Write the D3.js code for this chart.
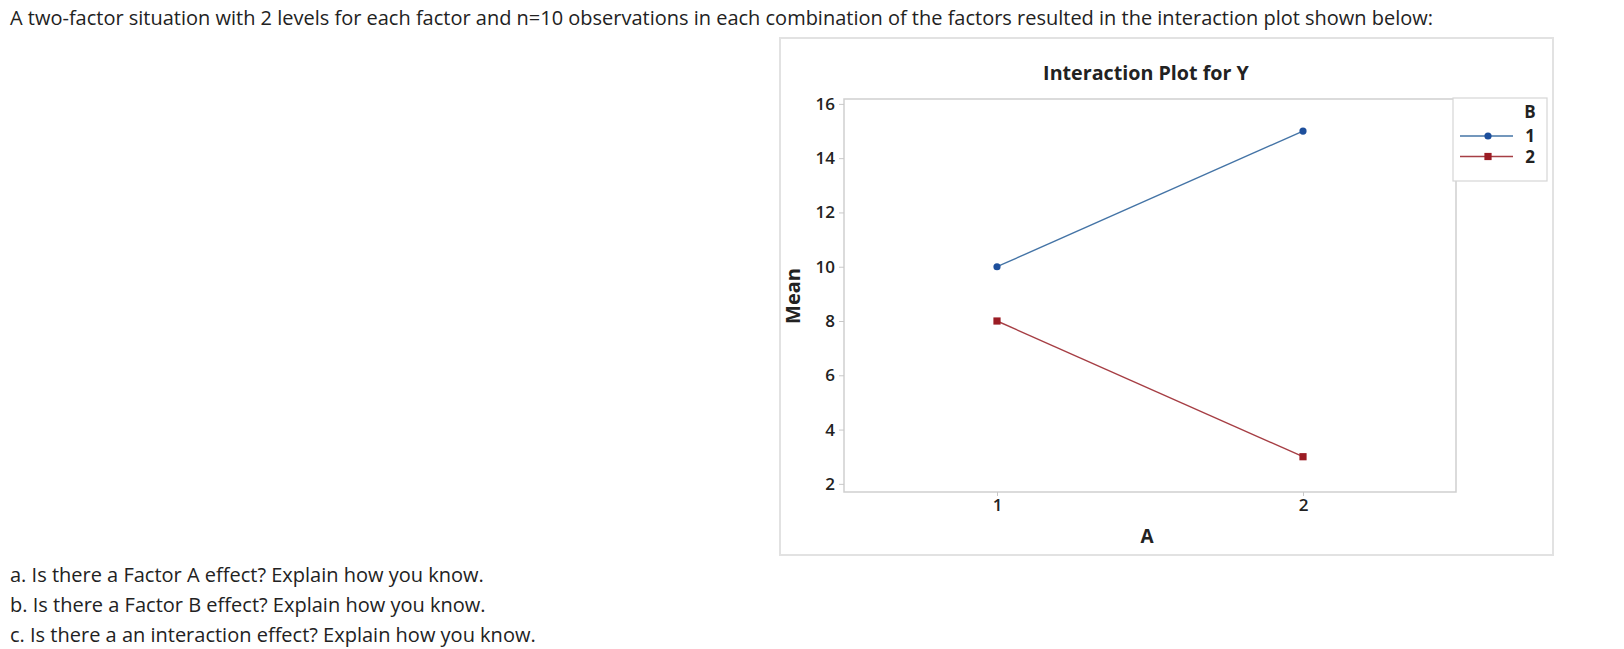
<!doctype html>
<html lang="en">
	<head>
		<meta charset="UTF-8" />
		<title>Interaction Plot for Y</title>
		<script src="https://d3js.org/d3.v7.min.js"></script>
		<style>
			body {
				margin: 0;
				background: #fff;
			}
			svg text {
				font-family: 'Open Sans', 'Noto Sans', sans-serif;
			}
			.frame {
				fill: none;
				stroke: #e2e2e2;
				stroke-width: 2px;
			}
			.plotbox {
				fill: none;
				stroke: #cfcfcf;
				stroke-width: 1.5px;
			}
			.tick text {
				fill: #222;
				font-weight: 600;
			}
		</style>
	</head>
	<body>
		<svg width="1624" height="649"></svg>
		<script>
			const levelsA = [1, 2]
			const levelsB = ['1', '2']
			const meansB1 = [10, 15]
			const meansB2 = [8, 3]
			const yTicks = [2, 4, 6, 8, 10, 12, 14, 16]

			const intro =
				'A two-factor situation with 2 levels for each factor and n=10 observations in each combination of the factors resulted in the interaction plot shown below:'
			const questions = [
				'a. Is there a Factor A effect? Explain how you know.',
				'b. Is there a Factor B effect? Explain how you know.',
				'c. Is there a an interaction effect? Explain how you know.'
			]

			const series = [
				{ name: levelsB[0], values: meansB1, line: '#4474a6', color: '#1d4f9c', shape: 'circle' },
				{ name: levelsB[1], values: meansB2, line: '#a63e44', color: '#9b1c24', shape: 'square' }
			]

			const svg = d3.select('svg')

			// fit a text element to a target width by changing its font size
			function fit(sel, target) {
				const fs = parseFloat(sel.attr('font-size'))
				const w = sel.node().getComputedTextLength()
				sel.attr('font-size', (fs * target) / w)
			}

			svg.append('text')
				.attr('x', 10)
				.attr('y', 25)
				.attr('font-size', 18)
				.attr('fill', '#222')
				.text(intro)
				.call(fit, 1424)

			const qWidths = [474, 476, 526]
			questions.forEach((q, i) => {
				svg.append('text')
					.attr('x', 10)
					.attr('y', 582 + i * 30)
					.attr('font-size', 18)
					.attr('fill', '#222')
					.text(q)
					.call(fit, qWidths[i])
			})

			// chart frame
			svg.append('rect').attr('class', 'frame').attr('x', 780).attr('y', 38).attr('width', 773).attr('height', 517)

			const plotLeft = 844,
				plotRight = 1456,
				plotTop = 99,
				plotBottom = 492

			const x = d3.scaleLinear().domain([0.5, 2.5]).range([plotLeft, plotRight])
			const y = d3.scaleLinear().domain([1.7, 16.18]).range([plotBottom, plotTop])

			svg.append('rect')
				.attr('class', 'plotbox')
				.attr('x', plotLeft)
				.attr('y', plotTop)
				.attr('width', plotRight - plotLeft)
				.attr('height', plotBottom - plotTop)

			const yAxis = svg
				.append('g')
				.attr('transform', `translate(${plotLeft},0)`)
				.call(d3.axisLeft(y).tickValues(yTicks).tickSize(5).tickPadding(4))
			yAxis.select('.domain').remove()
			yAxis.selectAll('.tick line').attr('stroke', '#c8c8c8')
			yAxis.selectAll('.tick text').attr('font-size', 17)

			const xAxis = svg
				.append('g')
				.attr('transform', `translate(0,${plotBottom})`)
				.call(d3.axisBottom(x).tickValues(levelsA).tickFormat(d3.format('d')).tickSize(4).tickPadding(3))
			xAxis.select('.domain').remove()
			xAxis.selectAll('.tick line').attr('stroke', '#c8c8c8')
			xAxis.selectAll('.tick text').attr('font-size', 17).attr('font-weight', 'bold')

			svg.append('text')
				.attr('x', (plotLeft + plotRight) / 2 - 4)
				.attr('y', 80)
				.attr('text-anchor', 'middle')
				.attr('font-size', 20)
				.attr('font-weight', 'bold')
				.attr('fill', '#222')
				.text('Interaction Plot for Y')
				.call(fit, 206)

			svg.append('text')
				.attr('x', 1147)
				.attr('y', 543)
				.attr('text-anchor', 'middle')
				.attr('font-size', 19)
				.attr('font-weight', 'bold')
				.attr('fill', '#222')
				.text('A')

			svg.append('text')
				.attr('transform', 'translate(800,296) rotate(-90)')
				.attr('text-anchor', 'middle')
				.attr('font-size', 20)
				.attr('font-weight', 'bold')
				.attr('fill', '#222')
				.text('Mean')

			const line = d3
				.line()
				.x((d, i) => x(levelsA[i]))
				.y((d) => y(d))

			function marker(g, s, cx, cy) {
				if (s.shape === 'circle') {
					g.append('circle').attr('cx', cx).attr('cy', cy).attr('r', 3.6).attr('fill', s.color)
				} else {
					g.append('rect')
						.attr('x', cx - 3.6)
						.attr('y', cy - 3.6)
						.attr('width', 7.2)
						.attr('height', 7.2)
						.attr('fill', s.color)
				}
			}

			series.forEach((s) => {
				const g = svg.append('g')
				g.append('path')
					.attr('d', line(s.values))
					.attr('fill', 'none')
					.attr('stroke', s.line)
					.attr('stroke-width', 1.4)
				s.values.forEach((v, i) => marker(g, s, x(levelsA[i]), y(v)))
			})

			// legend
			const legend = svg.append('g')
			legend.append('rect')
				.attr('x', 1453)
				.attr('y', 98)
				.attr('width', 94)
				.attr('height', 83)
				.attr('fill', '#fff')
				.attr('stroke', '#d6d6d6')
				.attr('stroke-width', 1.2)
			legend.append('text')
				.attr('x', 1530)
				.attr('y', 118)
				.attr('text-anchor', 'middle')
				.attr('font-size', 17)
				.attr('font-weight', 'bold')
				.attr('fill', '#222')
				.text('B')
			series.forEach((s, i) => {
				const ly = 136 + i * 20.5
				legend.append('line')
					.attr('x1', 1460)
					.attr('x2', 1513)
					.attr('y1', ly)
					.attr('y2', ly)
					.attr('stroke', s.line)
					.attr('stroke-width', 1.5)
				marker(legend, s, 1488, ly)
				legend.append('text')
					.attr('x', 1530)
					.attr('y', ly + 6)
					.attr('text-anchor', 'middle')
					.attr('font-size', 17)
					.attr('font-weight', 'bold')
					.attr('fill', '#222')
					.text(s.name)
			})
		</script>
	</body>
</html>
